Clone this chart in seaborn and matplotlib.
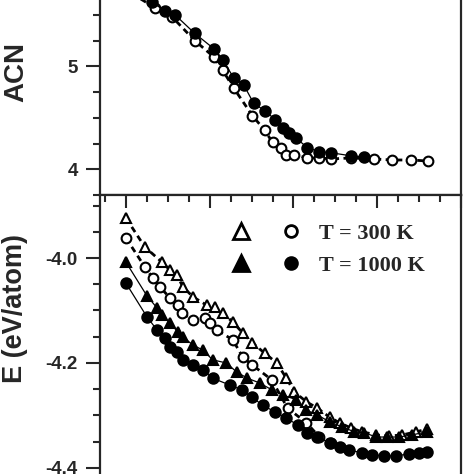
import matplotlib
matplotlib.use("Agg")
import matplotlib.pyplot as plt
import seaborn as sns
from matplotlib.lines import Line2D
from matplotlib.legend_handler import HandlerTuple
from matplotlib.ticker import MultipleLocator
from matplotlib.font_manager import FontProperties

# ACN (top panel)
acn_x_300 = [20, 26.9, 31.0, 36.4, 41.0, 43.1, 45.7, 50.2, 53.1, 55.0, 57.1, 58.3, 60.2,
             63.3, 66.2, 69.0, 73.8, 79.3, 83.6, 88.1, 92.1]
acn_300 = [5.74, 5.57, 5.48, 5.25, 5.09, 4.96, 4.79, 4.52, 4.38, 4.26, 4.21, 4.14, 4.14,
           4.11, 4.11, 4.10, 4.11, 4.10, 4.09, 4.09, 4.08]
acn_x_1000 = [20, 23.3, 26.2, 29.3, 31.7, 36.4, 41.0, 43.1, 45.7, 48.1, 50.5, 53.1, 55.7,
              57.4, 59.0, 60.7, 63.3, 66.2, 69.0, 73.8, 76.9]
acn_1000 = [5.83, 5.72, 5.62, 5.54, 5.50, 5.32, 5.17, 5.06, 4.89, 4.82, 4.64, 4.57, 4.48,
            4.40, 4.35, 4.30, 4.21, 4.17, 4.16, 4.13, 4.12]

# E (bottom panel), triangles
tri_x_300 = [20, 24.5, 28.6, 30.5, 32.1, 33.6, 36.0, 39.3, 41.2, 43.1, 45.5, 47.9, 50.2, 53.1,
             56.0, 58.3, 60.2, 63.1, 65.7, 68.6, 71.0, 73.8, 76.4, 79.8, 82.9, 86.0, 89.3, 91.9]
tri_e_300 = [-3.924, -3.979, -4.008, -4.023, -4.032, -4.055, -4.074, -4.090, -4.093, -4.105,
             -4.122, -4.143, -4.162, -4.181, -4.200, -4.229, -4.255, -4.274, -4.286, -4.303,
             -4.314, -4.324, -4.331, -4.337, -4.339, -4.337, -4.331, -4.326]
tri_x_1000 = [20, 25.0, 27.4, 28.6, 30.5, 32.4, 33.6, 36.0, 38.3, 40.7, 44.0, 46.4, 49.0, 51.9,
              54.8, 57.4, 60.7, 63.1, 65.7, 68.6, 71.7, 74.5, 76.9, 79.8, 82.4, 85.2, 88.3, 91.9]
tri_e_1000 = [-4.008, -4.072, -4.095, -4.109, -4.124, -4.141, -4.150, -4.166, -4.175, -4.194,
              -4.200, -4.217, -4.229, -4.238, -4.251, -4.261, -4.270, -4.290, -4.299, -4.312,
              -4.322, -4.331, -4.333, -4.341, -4.341, -4.341, -4.337, -4.331]

# E (bottom panel), circles
circ_x_300 = [20, 24.5, 26.4, 28.1, 30.5, 32.4, 33.3, 36.0, 38.8, 40.0, 41.7, 45.5, 47.9,
              50.2, 54.8, 58.6, 63.1, 66.2, 69.0]
circ_e_300 = [-3.962, -4.017, -4.038, -4.055, -4.076, -4.090, -4.105, -4.118, -4.114, -4.124,
              -4.137, -4.156, -4.189, -4.204, -4.232, -4.286, -4.314, -4.341, -4.352]
circ_x_1000 = [20, 25.0, 27.4, 29.3, 30.5, 32.1, 33.6, 36.0, 38.3, 40.7, 44.8, 47.6, 50.0, 52.6,
               55.5, 58.3, 61.0, 63.3, 65.7, 68.6, 71.0, 73.3, 76.4, 78.8, 81.7, 84.5, 87.6,
               90.0, 91.9]
circ_e_1000 = [-4.048, -4.112, -4.137, -4.152, -4.170, -4.179, -4.194, -4.204, -4.213, -4.229,
               -4.242, -4.251, -4.265, -4.280, -4.293, -4.305, -4.318, -4.333, -4.341, -4.352,
               -4.360, -4.366, -4.371, -4.375, -4.377, -4.377, -4.373, -4.371, -4.370]

legend_labels = ["T = 300 K", "T = 1000 K"]

sns.set_style("ticks")
plt.rcParams["font.family"] = ["Liberation Sans", "DejaVu Sans"]
plt.rcParams["font.weight"] = "bold"
plt.rcParams["axes.unicode_minus"] = False
plt.rcParams["axes.linewidth"] = 1.6

fig = plt.figure(figsize=(4.74, 4.74), dpi=100)
ax_top = fig.add_axes([0.211, 0.5886, 0.7616, 0.478])
ax_bot = fig.add_axes([0.211, 0.5886 - 0.6313, 0.7616, 0.6313])

dash = (0, (2.2, 1.6))
open_kw = dict(color="black", markerfacecolor="white", markeredgecolor="black",
               markeredgewidth=1.5, estimator=None, sort=False)
fill_kw = dict(color="black", markerfacecolor="black", markeredgecolor="black",
               markeredgewidth=1.5, estimator=None, sort=False)

# top panel
sns.lineplot(x=acn_x_300, y=acn_300, ax=ax_top, marker="o", markersize=7,
             linestyle=dash, linewidth=2.0, **open_kw)
sns.lineplot(x=acn_x_1000, y=acn_1000, ax=ax_top, marker="o", markersize=7.5,
             linewidth=0.9, **fill_kw)

# bottom panel
sns.lineplot(x=tri_x_300, y=tri_e_300, ax=ax_bot, marker="^", markersize=7.5,
             linestyle=dash, linewidth=2.0, **open_kw)
sns.lineplot(x=circ_x_300, y=circ_e_300, ax=ax_bot, marker="o", markersize=7,
             linestyle=dash, linewidth=2.0, **open_kw)
sns.lineplot(x=tri_x_1000, y=tri_e_1000, ax=ax_bot, marker="^", markersize=7.5,
             linewidth=0.9, **fill_kw)
sns.lineplot(x=circ_x_1000, y=circ_e_1000, ax=ax_bot, marker="o", markersize=7.5,
             linewidth=0.9, **fill_kw)

for ax in (ax_top, ax_bot):
    ax.set_xlim(13.8, 100)
    for s in ax.spines.values():
        s.set_visible(True)
        s.set_linewidth(1.6)
    ax.tick_params(axis="y", which="major", direction="out", length=10, width=1.5,
                   labelsize=13.5, pad=6)
    ax.tick_params(axis="y", which="minor", direction="out", length=5, width=1.5)
    ax.set_xlabel("")

ax_top.set_ylim(3.75, 5.95)
ax_top.yaxis.set_major_locator(MultipleLocator(1))
ax_top.yaxis.set_minor_locator(MultipleLocator(0.25))
ax_top.yaxis.set_major_formatter(matplotlib.ticker.FormatStrFormatter("%d"))
ax_top.tick_params(axis="x", which="both", bottom=False, top=False,
                   labelbottom=False, labeltop=False)

ax_bot.set_ylim(-4.45, -3.88)
ax_bot.yaxis.set_major_locator(MultipleLocator(0.2))
ax_bot.yaxis.set_minor_locator(MultipleLocator(0.05))
ax_bot.yaxis.set_major_formatter(matplotlib.ticker.FormatStrFormatter("%.1f"))
ax_bot.xaxis.set_major_locator(MultipleLocator(20))
ax_bot.xaxis.set_minor_locator(MultipleLocator(5))
ax_bot.tick_params(axis="x", which="both", bottom=False, top=True, direction="in",
                   labelbottom=False, labeltop=False, width=1.5)
ax_bot.tick_params(axis="x", which="major", length=9)
ax_bot.tick_params(axis="x", which="minor", length=5)

ax_top.set_ylabel("ACN", fontsize=20, fontweight="bold")
ax_top.yaxis.set_label_coords(-0.196, 0.545)
ax_bot.set_ylabel("E (eV/atom)", fontsize=19.5, fontweight="bold")
ax_bot.yaxis.set_label_coords(-0.2, 0.622)

h_tri_open = Line2D([], [], linestyle="None", marker="^", markersize=11,
                    markerfacecolor="white", markeredgecolor="black", markeredgewidth=2)
h_circ_open = Line2D([], [], linestyle="None", marker="o", markersize=8.5,
                     markerfacecolor="white", markeredgecolor="black", markeredgewidth=2)
h_tri_fill = Line2D([], [], linestyle="None", marker="^", markersize=11,
                    markerfacecolor="black", markeredgecolor="black", markeredgewidth=2)
h_circ_fill = Line2D([], [], linestyle="None", marker="o", markersize=8.5,
                     markerfacecolor="black", markeredgecolor="black", markeredgewidth=2)

ax_bot.legend(handles=[(h_tri_open, h_circ_open), (h_tri_fill, h_circ_fill)],
              labels=legend_labels,
              handler_map={tuple: HandlerTuple(ndivide=None, pad=0)},
              loc="upper left", bbox_to_anchor=(0.321, 0.905), frameon=False,
              handlelength=4.5, handletextpad=0.15, labelspacing=0.5,
              borderpad=0, borderaxespad=0,
              prop=FontProperties(family="Liberation Serif", weight="bold", size=16))

fig.savefig("out.png", dpi=100)
